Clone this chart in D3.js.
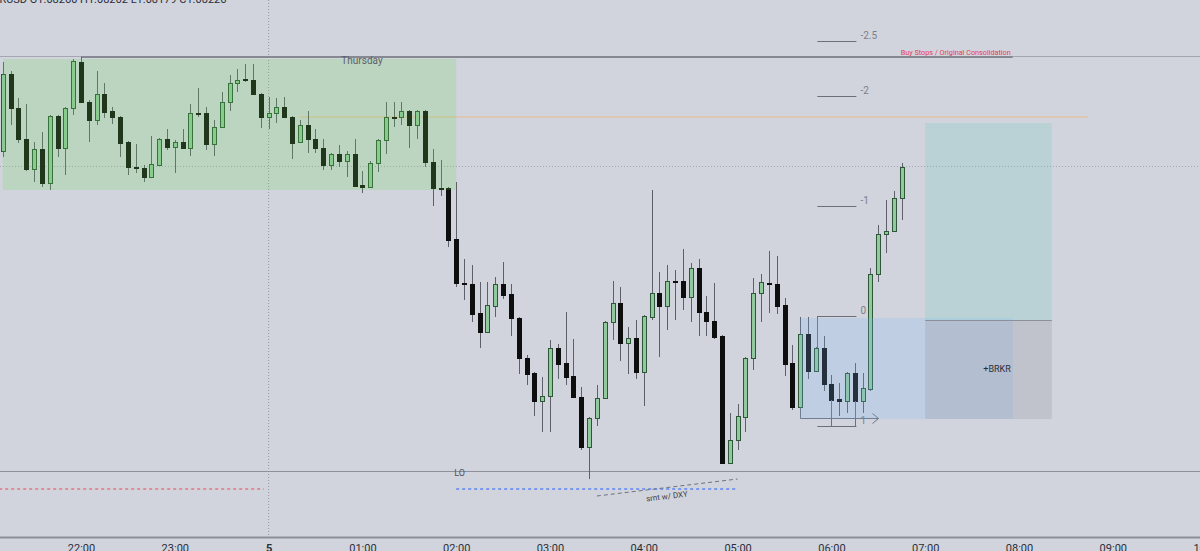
<!DOCTYPE html>
<html><head><meta charset="utf-8">
<script src="https://cdn.jsdelivr.net/npm/d3@7"></script>
<style>
html,body{margin:0;padding:0;background:#d1d4dc;overflow:hidden}
svg{display:block;font-family:Roboto,"Liberation Sans",sans-serif}
</style></head>
<body>
<svg id="chart" width="1200" height="551"></svg>
<script>
// ---- data (5-minute candles, EURUSD, from 2024-01-04 21:10 UTC) ----
const startTime = "2024-01-04T21:10:00Z";
const opens = [1.08449,1.08526,1.08492,1.08461,1.08431,1.08451,1.08417,1.08484,1.08452,1.08492,
1.08538,1.08498,1.08480,1.08506,1.08489,1.08483,1.08458,1.08433,1.08432,1.08423,
1.08435,1.08461,1.08453,1.08458,1.08452,1.08487,1.08487,1.08456,1.08473,1.08498,
1.08517,1.08521,1.08520,1.08506,1.08483,1.08487,1.08493,1.08483,1.08458,1.08475,
1.08461,1.08452,1.08435,1.08446,1.08439,1.08446,1.08415,1.08413,1.08437,1.08460,
1.08483,1.08483,1.08489,1.08475,1.08489,1.08438,1.08412,1.08412,1.08361,1.08317,
1.08316,1.08287,1.08268,1.08294,1.08316,1.08306,1.08282,1.08242,1.08227,1.08199,
1.08204,1.08252,1.08237,1.08224,1.08203,1.08153,1.08182,1.08202,1.08278,1.08297,
1.08257,1.08262,1.08228,1.08283,1.08307,1.08294,1.08319,1.08319,1.08303,1.08332,
1.08288,1.08279,1.08264,1.08137,1.08160,1.08183,1.08242,1.08307,1.08317,1.08316,
1.08295,1.08237,1.08193,1.08266,1.08229,1.08252,1.08216,1.08201,1.08199,1.08227,
1.08199,1.08211,1.08326,1.08366,1.08369,1.08402];
const highs = [1.08538,1.08529,1.08502,1.08496,1.08458,1.08468,1.08485,1.08485,1.08493,1.08541,
1.08543,1.08500,1.08529,1.08517,1.08493,1.08484,1.08459,1.08456,1.08435,1.08464,
1.08462,1.08471,1.08460,1.08471,1.08496,1.08512,1.08493,1.08480,1.08508,1.08525,
1.08531,1.08536,1.08536,1.08507,1.08503,1.08502,1.08503,1.08484,1.08480,1.08489,
1.08471,1.08461,1.08447,1.08455,1.08449,1.08461,1.08429,1.08439,1.08461,1.08498,
1.08498,1.08498,1.08490,1.08490,1.08490,1.08451,1.08440,1.08413,1.08418,1.08341,
1.08335,1.08318,1.08318,1.08323,1.08338,1.08316,1.08283,1.08245,1.08228,1.08223,
1.08260,1.08256,1.08288,1.08261,1.08213,1.08183,1.08215,1.08279,1.08319,1.08313,
1.08273,1.08280,1.08285,1.08410,1.08328,1.08335,1.08330,1.08351,1.08337,1.08341,
1.08304,1.08317,1.08265,1.08187,1.08196,1.08243,1.08322,1.08326,1.08349,1.08344,
1.08302,1.08255,1.08283,1.08283,1.08253,1.08264,1.08225,1.08217,1.08228,1.08237,
1.08227,1.08332,1.08375,1.08400,1.08409,1.08437];
const lows = [1.08443,1.08475,1.08457,1.08429,1.08418,1.08413,1.08410,1.08443,1.08425,1.08485,
1.08497,1.08458,1.08475,1.08482,1.08476,1.08443,1.08425,1.08427,1.08418,1.08422,
1.08434,1.08450,1.08427,1.08451,1.08444,1.08483,1.08450,1.08444,1.08472,1.08489,
1.08508,1.08518,1.08505,1.08472,1.08471,1.08477,1.08482,1.08441,1.08457,1.08447,
1.08447,1.08430,1.08430,1.08433,1.08423,1.08413,1.08407,1.08412,1.08428,1.08446,
1.08473,1.08475,1.08452,1.08461,1.08433,1.08394,1.08404,1.08353,1.08313,1.08300,
1.08278,1.08252,1.08267,1.08283,1.08301,1.08264,1.08226,1.08215,1.08184,1.08168,
1.08168,1.08221,1.08215,1.08202,1.08150,1.08121,1.08174,1.08201,1.08260,1.08239,
1.08226,1.08221,1.08194,1.08280,1.08243,1.08270,1.08280,1.08290,1.08278,1.08264,
1.08264,1.08261,1.08136,1.08136,1.08150,1.08168,1.08230,1.08278,1.08287,1.08286,
1.08224,1.08190,1.08192,1.08221,1.08228,1.08209,1.08199,1.08184,1.08187,1.08198,
1.08187,1.08209,1.08318,1.08347,1.08368,1.08380];
const closes = [1.08526,1.08492,1.08461,1.08431,1.08451,1.08417,1.08484,1.08452,1.08492,1.08539,
1.08498,1.08480,1.08506,1.08488,1.08483,1.08457,1.08433,1.08432,1.08423,1.08436,
1.08461,1.08453,1.08458,1.08452,1.08487,1.08486,1.08456,1.08473,1.08498,1.08517,
1.08520,1.08520,1.08506,1.08483,1.08487,1.08493,1.08483,1.08457,1.08475,1.08461,
1.08452,1.08435,1.08446,1.08439,1.08446,1.08414,1.08413,1.08437,1.08460,1.08483,
1.08482,1.08489,1.08475,1.08489,1.08438,1.08412,1.08411,1.08360,1.08317,1.08316,
1.08286,1.08268,1.08295,1.08316,1.08305,1.08282,1.08242,1.08226,1.08199,1.08204,
1.08252,1.08236,1.08223,1.08203,1.08153,1.08182,1.08202,1.08278,1.08297,1.08257,
1.08262,1.08228,1.08284,1.08307,1.08294,1.08319,1.08318,1.08303,1.08332,1.08288,
1.08279,1.08263,1.08137,1.08160,1.08184,1.08242,1.08307,1.08318,1.08316,1.08294,
1.08236,1.08193,1.08266,1.08229,1.08252,1.08216,1.08200,1.08199,1.08227,1.08199,
1.08212,1.08326,1.08366,1.08369,1.08402,1.08433];

// ---- drawings ----
const hLines = [ // [price, from, to, color, width, dash, opacity]
  [1.08544, "2024-01-04T21:00:00Z", "2024-01-05T10:00:00Z", "#a4a7b0", 1, null, 1],
  [1.08543, "2024-01-04T22:00:00Z", "2024-01-05T07:56:00Z", "#868992", 2, null, 1],
  [1.08483, "2024-01-05T00:20:00Z", "2024-01-05T08:44:00Z", "#ffa040", 1.5, null, 0.35],
  [1.08129, "2024-01-04T21:00:00Z", "2024-01-05T10:00:00Z", "#8d9099", 1, null, 1],
  [1.08111, "2024-01-04T21:00:00Z", "2024-01-04T23:57:00Z", "#f23645", 1.5, "3,3", 0.6],
  [1.08111, "2024-01-05T02:00:00Z", "2024-01-05T05:00:00Z", "#2962ff", 1.5, "3,3", 0.7]
];
const smtLine = [["2024-01-05T03:30:00Z", 1.08104], ["2024-01-05T05:00:00Z", 1.08121]];
const crosshair = ["2024-01-05T00:00:00Z", 1.08434];
const consolidationBox = ["2024-01-04T21:10:00Z", "2024-01-05T02:00:00Z", 1.08541, 1.08410];
const breakerBox = ["2024-01-05T05:40:00Z", "2024-01-05T07:56:00Z", 1.08282, 1.08181];
const position = { from: "2024-01-05T07:00:00Z", to: "2024-01-05T08:21:00Z", entry: 1.08280, target: 1.08477, stop: 1.08181 };
const fib = { from: "2024-01-05T05:51:00Z", to: "2024-01-05T06:16:00Z", p0: 1.08284, p1: 1.08174 };
const fibLevels = [-2.5, -2, -1, 0, 1];
const fibVerticals = [["2024-01-05T05:51:00Z", 1.08284, 1.08252], ["2024-01-05T06:00:00Z", 1.08200, 1.08174], ["2024-01-05T06:15:00Z", 1.08199, 1.08174]];
const arrowPts = [["2024-01-05T05:40:00Z", 1.08193], ["2024-01-05T05:40:00Z", 1.08182], ["2024-01-05T06:30:00Z", 1.08182]];

// ---- scales ----
const svg = d3.select("#chart");
const W = 1200, H = 551, axisY = 537;
const x = d3.scaleUtc().domain([new Date("2024-01-04T21:00:00Z"), new Date("2024-01-05T10:00:00Z")]).range([-12.8, 1206.6]);
const y = d3.scaleLinear().domain([1.08600, 1.08049]).range([0, 551]);
const T = s => x(new Date(s));
const t0 = new Date(startTime).getTime();
const candles = opens.map((o, i) => ({ t: new Date(t0 + i * 300000), o, h: highs[i], l: lows[i], c: closes[i] }));

svg.append("rect").attr("width", W).attr("height", H).attr("fill", "#d1d4dc");

// top legend (cut off at the top edge, as in the source)
svg.append("text").attr("x", -14).attr("y", 3).attr("font-size", 11).attr("fill", "#2a2e39")
  .text("EURUSD O1.08260 H1.08262 L1.08179 C1.08226");

// crosshair
svg.append("line").attr("x1", T(crosshair[0])).attr("x2", T(crosshair[0])).attr("y1", 0).attr("y2", axisY)
  .attr("stroke", "#9598a1").attr("stroke-dasharray", "1,2");
svg.append("line").attr("x1", 0).attr("x2", W).attr("y1", y(crosshair[1]) + 0.5).attr("y2", y(crosshair[1]) + 0.5)
  .attr("stroke", "#a3a6af").attr("stroke-dasharray", "1,2");

// horizontal lines
svg.append("g").selectAll("line").data(hLines).join("line")
  .attr("x1", d => T(d[1])).attr("x2", d => T(d[2]))
  .attr("y1", d => Math.round(y(d[0])) + (d[4] === 1 ? 0.5 : 0)).attr("y2", d => Math.round(y(d[0])) + (d[4] === 1 ? 0.5 : 0))
  .attr("stroke", d => d[3]).attr("stroke-width", d => d[4])
  .attr("stroke-opacity", d => d[6])
  .attr("stroke-dasharray", d => d[5]);

// smt line
svg.append("line").attr("x1", T(smtLine[0][0])).attr("y1", y(smtLine[0][1]))
  .attr("x2", T(smtLine[1][0])).attr("y2", y(smtLine[1][1]))
  .attr("stroke", "#6f727b").attr("stroke-dasharray", "4,3");

// candles
const cg = svg.append("g");
candles.forEach(d => {
  const cx = Math.round(x(d.t));
  const up = d.c >= d.o;
  cg.append("line").attr("x1", cx + 0.5).attr("x2", cx + 0.5).attr("y1", y(d.h)).attr("y2", y(d.l))
    .attr("stroke", "#5d6069").attr("stroke-width", 1);
  const top = y(Math.max(d.o, d.c)), bot = y(Math.min(d.o, d.c));
  cg.append("rect").attr("x", cx - 1.5).attr("width", 4)
    .attr("y", Math.round(top) + 0.5).attr("height", Math.max(1, Math.round(bot - top)))
    .attr("fill", up ? "#90c99c" : "#0e0e0e")
    .attr("stroke", up ? "#2d5738" : "#0e0e0e").attr("stroke-width", 1);
});

// fib
const fibPrice = l => fib.p0 - l * (fib.p0 - fib.p1);
const fg = svg.append("g");
fibLevels.forEach(l => {
  const yy = Math.round(y(fibPrice(l))) + 0.5;
  fg.append("line").attr("x1", T(fib.from)).attr("x2", T(fib.to)).attr("y1", yy).attr("y2", yy)
    .attr("stroke", "#6d707a");
  fg.append("text").attr("x", T(fib.to) + 4).attr("y", yy - 3).attr("font-size", 10).attr("fill", "#7c7f88").text(String(l));
});
fibVerticals.forEach(v => {
  fg.append("line").attr("x1", Math.round(T(v[0])) + 0.5).attr("x2", Math.round(T(v[0])) + 0.5)
    .attr("y1", y(v[1])).attr("y2", y(v[2])).attr("stroke", "#6d707a");
});
const ax = arrowPts.map(p => [Math.round(T(p[0])) + 0.5, Math.round(y(p[1])) + 0.5]);
fg.append("path").attr("d", d3.line()(ax)).attr("fill", "none").attr("stroke", "#6d707a");
const tip = ax[2];
fg.append("path").attr("d", `M${tip[0] - 6},${tip[1] - 5}L${tip[0]},${tip[1]}L${tip[0] - 6},${tip[1] + 5}`)
  .attr("fill", "none").attr("stroke", "#6d707a");

// overlays
svg.append("rect").attr("x", T(consolidationBox[0])).attr("width", T(consolidationBox[1]) - T(consolidationBox[0]))
  .attr("y", y(consolidationBox[2])).attr("height", y(consolidationBox[3]) - y(consolidationBox[2]))
  .attr("fill", "rgba(105,218,85,0.2)");
svg.append("rect").attr("x", T(breakerBox[0])).attr("width", T(breakerBox[1]) - T(breakerBox[0]))
  .attr("y", y(breakerBox[2])).attr("height", y(breakerBox[3]) - y(breakerBox[2]))
  .attr("fill", "rgba(124,187,255,0.2)");
svg.append("rect").attr("x", T(position.from)).attr("width", T(position.to) - T(position.from))
  .attr("y", y(position.target)).attr("height", y(position.entry) - y(position.target))
  .attr("fill", "rgba(94,207,190,0.2)");
svg.append("rect").attr("x", T(position.from)).attr("width", T(position.to) - T(position.from))
  .attr("y", y(position.entry)).attr("height", y(position.stop) - y(position.entry))
  .attr("fill", "rgba(130,128,140,0.2)");
svg.append("line").attr("x1", T(position.from)).attr("x2", T(position.to))
  .attr("y1", Math.round(y(position.entry)) + 0.5).attr("y2", Math.round(y(position.entry)) + 0.5)
  .attr("stroke", "#8d909a");

// texts
svg.append("text").attr("x", 362).attr("y", 64).attr("text-anchor", "middle").attr("font-size", 10)
  .attr("fill", "#5d6069").text("Thursday");
svg.append("text").attr("x", T(hLines[1][2]) - 2).attr("y", y(hLines[1][0]) - 2).attr("text-anchor", "end")
  .attr("font-size", 8).attr("fill", "#e2404f").attr("textLength", 110).attr("lengthAdjust", "spacingAndGlyphs")
  .text("Buy Stops / Original Consolidation");
svg.append("text").attr("x", T(breakerBox[1]) - 2).attr("y", (y(breakerBox[2]) + y(breakerBox[3])) / 2 + 3)
  .attr("text-anchor", "end").attr("font-size", 9).attr("fill", "#2a2e39").text("+BRKR");
svg.append("text").attr("x", T("2024-01-05T02:00:00Z") - 2).attr("y", y(1.08129) + 5)
  .attr("font-size", 9).attr("fill", "#50535c").text("LO");
const sx = T("2024-01-05T04:15:00Z"), sy = y(1.08104) + 3;
svg.append("text").attr("x", sx).attr("y", sy).attr("text-anchor", "middle").attr("font-size", 8)
  .attr("fill", "#3c3f48").attr("transform", `rotate(-6.9,${sx},${sy})`).text("smt w/ DXY");

// axis
const tickDates = d3.utcHour.range(new Date("2024-01-04T22:00:00Z"), new Date("2024-01-05T10:00:01Z"));
const axis = d3.axisBottom(x).tickValues(tickDates).tickSize(0).tickSizeOuter(0).tickPadding(7)
  .tickFormat(d => d.getUTCHours() === 0 ? String(d.getUTCDate()) : d3.utcFormat("%H:%M")(d));
const ag = svg.append("g").attr("transform", `translate(0,${axisY})`).call(axis);
ag.select(".domain").attr("stroke", "#8c8f98").attr("stroke-width", 2);
ag.selectAll("text").attr("font-size", 11).attr("fill", "#2a2e39")
  .attr("font-family", "Roboto,'Liberation Sans',sans-serif")
  .attr("font-weight", d => d.getUTCHours() === 0 ? "bold" : "normal");
</script>
</body></html>
